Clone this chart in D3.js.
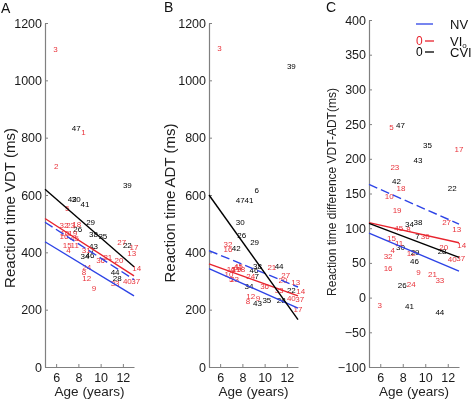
<!DOCTYPE html>
<html><head><meta charset="utf-8">
<script src="https://cdn.jsdelivr.net/npm/d3@7"></script>
<style>
body{margin:0;background:#fff}
svg{will-change:transform}
text{font-family:"Liberation Sans",Arial,sans-serif;-webkit-font-smoothing:antialiased}
</style>
</head><body>
<svg id="c" width="474" height="399"></svg>
<script>
// ---- data ----
const ids    = [6,7,22,26,28,29,30,34,35,38,39,41,42,43,44,46,47,
                1,2,3,4,5,8,9,10,11,12,13,14,15,16,17,18,19,20,21,23,24,27,31,32,33,36,37,40,45];
const groups = ["CVI","CVI","CVI","CVI","CVI","CVI","CVI","CVI","CVI","CVI","CVI","CVI","CVI","CVI","CVI","CVI","CVI",
                "VIo","VIo","VIo","VIo","VIo","VIo","VIo","VIo","VIo","VIo","VIo","VIo","VIo","VIo","VIo","VIo","VIo","VIo","VIo","VIo","VIo","VIo","VIo","VIo","VIo","VIo","VIo","VIo","VIo"];
const ages   = [9.1,9.1,12.0,7.55,11.1,8.7,7.4,8.2,9.8,8.95,12.0,8.2,7.05,8.95,10.9,8.65,7.4,
                8.25,5.8,5.75,6.9,6.8,8.3,9.2,6.4,7.3,8.35,12.4,12.85,6.6,6.3,12.6,7.45,7.1,11.25,10.25,6.9,8.35,11.5,8.3,6.3,10.9,9.6,12.75,12.0,7.25];
const vdt    = [null,407,425,480,309,505,585,387,457,463,634,569,585,421,332,389,832,
                820,701,1109,408,553,332,274,468,425,309,396,344,425,455,417,498,468,373,382,493,348,435,408,493,294,373,298,298,451];
const adt    = [617,318,269,461,234,435,506,281,234,353,1051,581,415,223,351,336,581,
                null,null,1113,340,308,231,240,322,347,246,296,266,340,412,202,340,342,302,349,305,318,320,null,429,269,281,238,240,351];
const diffs  = [null,89,158,18,67,66,72,106,220,109,null,-13,168,198,-21,53,248,
                null,null,-11,68,245,99,37,146,78,64,98,76,85,42,214,157,126,72,33,188,20,109,null,59,25,89,57,56,100];

// regression lines: values at age 5 and age 13
const fitAges       = [5, 13];
const fitA_NV       = [437, 248];
const fitA_NVdash   = [505, 305];
const fitA_VIo      = [518, 318];
const fitA_CVI      = [620, 350];
const fitB_NV       = [343, 205];
const fitB_NVdash   = [406, 279];
const fitB_VIo      = [360, 248];
const fitB_CVI      = [600, 165];
const fitC_NV       = [93, 38];
const fitC_NVdash   = [163, 106];
const fitC_VIo      = [108, 79];
const fitC_CVI      = [107, 58];

const xTicks  = [6, 8, 10, 12];
const yTicksAB = [0, 200, 400, 600, 800, 1000, 1200];
const yTicksC  = [-100, -50, 0, 50, 100, 150, 200, 250, 300, 350, 400];
const legendNames = ["NV", "VI", "CVI"];

// ---- drawing ----
const svg = d3.select("#c");
const BLUE = "#2d43e6", RED = "#e8232d", RED_T = "#e9333b", BLACK = "#000";
const AXC = "#808080";

const panels = [
  {vals: vdt,  xr:[45,134],  yr:[367,23], dom:[0,1200],  ticks:yTicksAB,
   fits:[fitA_NVdash, fitA_NV, fitA_VIo, fitA_CVI],
   ylab:"Reaction time VDT (ms)", ylx:10, yly:208, yls:15, letter:"A", lx:1, ly:13},
  {vals: adt,  xr:[209,298], yr:[367,23], dom:[0,1200],  ticks:yTicksAB,
   fits:[fitB_NVdash, fitB_NV, fitB_VIo, fitB_CVI],
   ylab:"Reaction time ADT (ms)", ylx:170, yly:203, yls:15, letter:"B", lx:164, ly:12},
  {vals: diffs, xr:[369,459], yr:[367,20], dom:[-100,400], ticks:yTicksC,
   fits:[fitC_NVdash, fitC_NV, fitC_VIo, fitC_CVI],
   ylab:"Reaction time difference VDT-ADT(ms)", ylx:332, yly:192, yls:12, letter:"C", lx:326, ly:12}
];

panels.forEach(p => {
  const x = d3.scaleLinear().domain([5,13]).range(p.xr);
  const y = d3.scaleLinear().domain(p.dom).range(p.yr);
  const g = svg.append("g");

  // axes
  const ya = g.append("g").attr("transform", `translate(${p.xr[0]},0)`)
    .call(d3.axisLeft(y).tickValues(p.ticks).tickFormat(d3.format("d"))
      .tickSizeInner(-3).tickSizeOuter(0).tickPadding(3));
  const xa = g.append("g").attr("transform", `translate(0,${p.yr[0]})`)
    .call(d3.axisBottom(x).tickValues(xTicks).tickFormat(d3.format("d"))
      .tickSizeInner(-3).tickSizeOuter(0).tickPadding(6));
  [ya, xa].forEach(a => {
    a.select(".domain").attr("stroke", AXC).attr("stroke-width", 1.2);
    a.selectAll(".tick line").attr("stroke", AXC);
    a.selectAll(".tick text").attr("fill", "#1a1a1a").style("font-size", "12.5px")
      .style("font-family", '"Liberation Sans",Arial,sans-serif');
  });

  // labels (data points)
  const pts = ids.map((id,i) => ({id, grp:groups[i], age:ages[i], v:p.vals[i]})).filter(d => d.v !== null);
  g.append("g").style("opacity", 0.999)
    .selectAll("text.pt").data(pts).enter().append("text").attr("class","pt")
    .attr("x", d => x(d.age)).attr("y", d => y(d.v))
    .attr("dy", "0.35em")
    .attr("fill", d => d.grp === "CVI" ? BLACK : RED_T)
    .style("font-size", "8px")
    .text(d => d.id);

  // regression lines
  const cols = [BLUE, BLUE, RED, BLACK];
  p.fits.forEach((f, k) => {
    g.append("line")
      .attr("x1", x(fitAges[0])).attr("y1", y(f[0]))
      .attr("x2", x(fitAges[1])).attr("y2", y(f[1]))
      .attr("stroke", cols[k]).attr("stroke-width", 1.4)
      .attr("stroke-dasharray", k === 0 ? "9,4" : null);
  });

  // axis titles
  g.append("text").attr("transform", `translate(${p.ylx},${p.yly}) rotate(-90)`)
    .attr("text-anchor","middle").attr("dy","0.35em")
    .style("font-size", p.yls + "px").attr("fill","#222").text(p.ylab);
  g.append("text").attr("x", (p.xr[0]+p.xr[1])/2).attr("y", 396)
    .attr("text-anchor","middle").style("font-size","13.5px").attr("fill","#222").text("Age (years)");
  g.append("text").attr("x", p.lx).attr("y", p.ly)
    .style("font-size","14px").attr("fill","#111").text(p.letter);
});

// legend
const lg = svg.append("g");
const legRows = [{y:24, c:BLUE, mark:false}, {y:41, c:RED, mark:true}, {y:52, c:BLACK, mark:true}];
legRows.forEach((r, i) => {
  if (r.mark) {
    lg.append("text").attr("x", 416).attr("y", r.y).attr("dy","0.36em")
      .style("font-size","12px").attr("fill", r.c).text("0");
    lg.append("line").attr("x1", 425).attr("x2", 434).attr("y1", r.y).attr("y2", r.y)
      .attr("stroke", r.c).attr("stroke-width", 1.3);
  } else {
    lg.append("line").attr("x1", 416).attr("x2", 433).attr("y1", r.y).attr("y2", r.y)
      .attr("stroke", r.c).attr("stroke-width", 1.3);
  }
  const t = lg.append("text").attr("x", 450).attr("y", r.y).attr("dy","0.36em")
    .style("font-size","13px").attr("fill","#111").text(legendNames[i]);
  if (i === 1) t.append("tspan").attr("dy","2").style("font-size","8px").text("o");
});
</script>
</body></html>
